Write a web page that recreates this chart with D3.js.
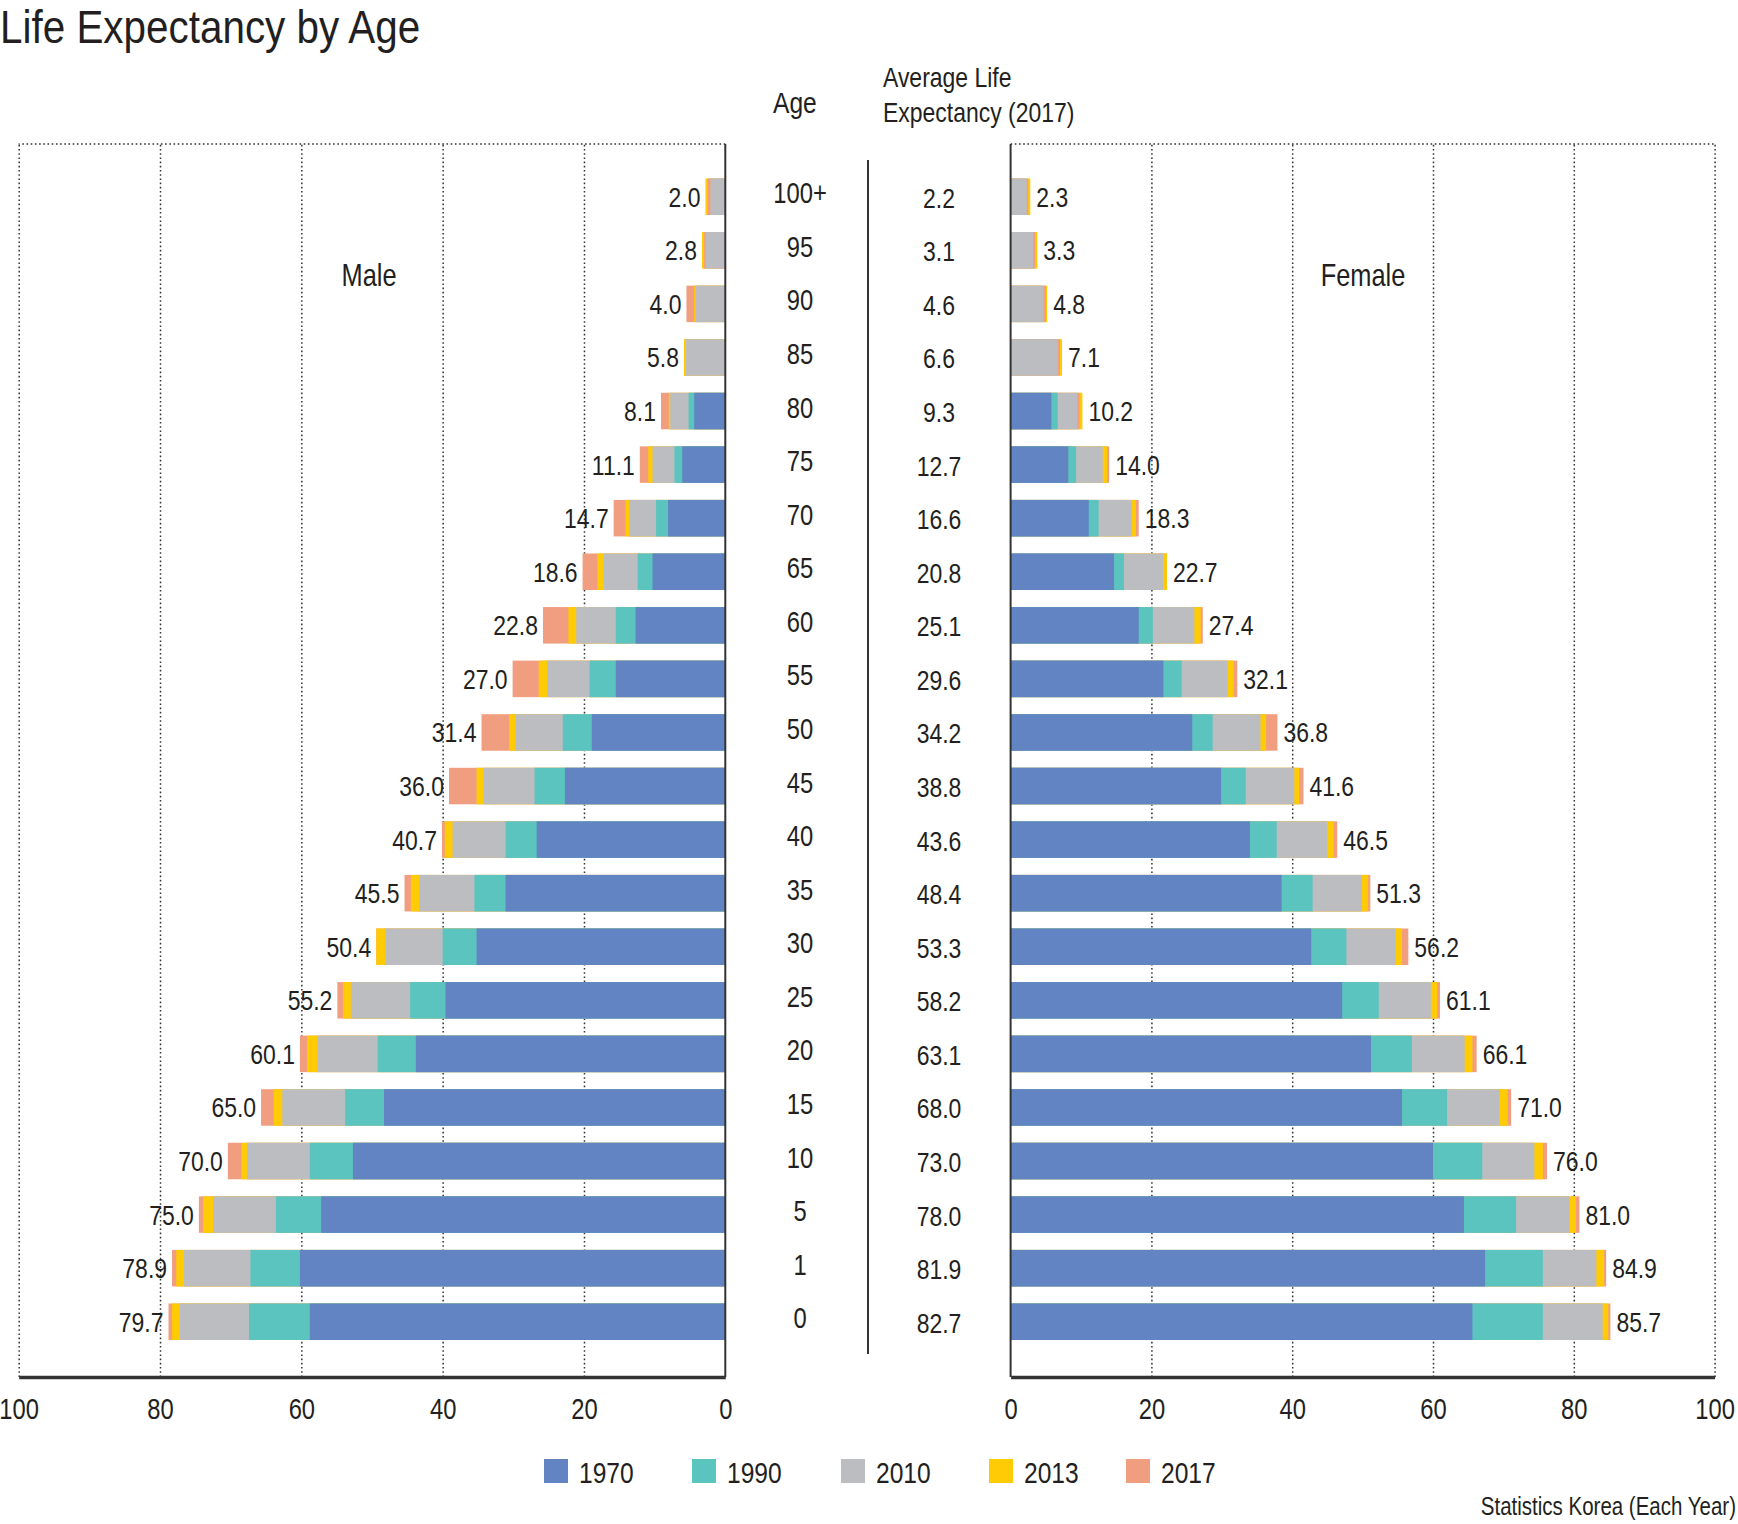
<!DOCTYPE html>
<html>
<head>
<meta charset="utf-8">
<script src="https://cdn.jsdelivr.net/npm/d3@7"></script>
<style>
  body { margin: 0; background: #fff; }
  svg text { font-family: "Liberation Sans", Arial, sans-serif; fill: #231f20; }
</style>
</head>
<body>
<div id="chart"></div>
<script>
const WIDTH = 1738;
const HEIGHT = 1524;
const SX = 0.82; // squeeze text to a condensed look

// data, top row first
const ages = ["100+", "95", "90", "85", "80", "75", "70", "65", "60", "55", "50",
              "45", "40", "35", "30", "25", "20", "15", "10", "5", "1", "0"];
const years = ["1970", "1990", "2010", "2013", "2017"];
const colors = ["#6384c2", "#5cc4be", "#bcbdc0", "#ffcb05", "#f19e80"];

const male1970 = [null, null, null, null, 4.4, 6.1, 8.1, 10.3, 12.7, 15.5, 18.9, 22.7, 26.7, 31.1, 35.2, 39.6, 43.8, 48.3, 52.7, 57.2, 60.2, 58.8];
const male1990 = [null, null, null, null, 5.2, 7.2, 9.8, 12.4, 15.5, 19.2, 23.0, 27.0, 31.1, 35.5, 40.0, 44.6, 49.2, 53.8, 58.8, 63.6, 67.2, 67.4];
const male2010 = [2.1, 2.8, 4.2, 5.6, 7.8, 10.3, 13.6, 17.2, 21.1, 25.2, 29.7, 34.2, 38.6, 43.3, 48.1, 53.0, 57.7, 62.7, 67.7, 72.5, 76.6, 77.2];
const male2013 = [2.8, 3.3, 4.4, 5.85, 8.0, 10.9, 14.1, 18.1, 22.2, 26.4, 30.6, 35.2, 39.7, 44.5, 49.4, 54.1, 59.2, 63.9, 68.5, 73.9, 77.7, 78.3];
const male2017 = [2.5, 3.0, 5.5, 5.85, 9.1, 12.1, 15.8, 20.2, 25.8, 30.1, 34.5, 39.1, 40.1, 45.4, 49.4, 54.9, 60.2, 65.7, 70.4, 74.5, 78.3, 78.8];

const female1970 = [null, null, null, null, 5.8, 8.2, 11.1, 14.7, 18.2, 21.7, 25.8, 29.9, 34.0, 38.5, 42.7, 47.1, 51.2, 55.6, 60.0, 64.4, 67.4, 65.6];
const female1990 = [null, null, null, null, 6.7, 9.3, 12.5, 16.1, 20.2, 24.3, 28.7, 33.4, 37.8, 42.9, 47.7, 52.3, 57.0, 62.0, 67.0, 71.8, 75.6, 75.6];
const female2010 = [2.3, 3.2, 4.7, 6.7, 9.5, 13.1, 17.2, 21.7, 26.1, 30.8, 35.5, 40.3, 45.0, 49.9, 54.7, 59.7, 64.5, 69.4, 74.4, 79.4, 83.2, 84.1];
const female2013 = [2.8, 3.8, 5.2, 7.3, 10.2, 13.7, 17.8, 22.2, 27.0, 31.7, 36.3, 41.0, 45.9, 50.8, 55.6, 60.6, 65.6, 70.6, 75.6, 80.3, 84.3, 84.9];
const female2017 = [2.5, 3.5, 5.0, 7.0, 9.8, 14.0, 18.2, 22.2, 27.3, 32.2, 37.9, 41.6, 46.4, 51.1, 56.5, 61.0, 66.2, 71.1, 76.2, 80.8, 84.6, 85.2];

// printed 2017 figures
const maleLabel = [2.0, 2.8, 4.0, 5.8, 8.1, 11.1, 14.7, 18.6, 22.8, 27.0, 31.4, 36.0, 40.7, 45.5, 50.4, 55.2, 60.1, 65.0, 70.0, 75.0, 78.9, 79.7];
const femaleLabel = [2.3, 3.3, 4.8, 7.1, 10.2, 14.0, 18.3, 22.7, 27.4, 32.1, 36.8, 41.6, 46.5, 51.3, 56.2, 61.1, 66.1, 71.0, 76.0, 81.0, 84.9, 85.7];
const averageLabel = [2.2, 3.1, 4.6, 6.6, 9.3, 12.7, 16.6, 20.8, 25.1, 29.6, 34.2, 38.8, 43.6, 48.4, 53.3, 58.2, 63.1, 68.0, 73.0, 78.0, 81.9, 82.7];

const ticks = [0, 20, 40, 60, 80, 100];

const male = [male1970, male1990, male2010, male2013, male2017];
const female = [female1970, female1990, female2010, female2013, female2017];

const TOP = 144;
const BOTTOM = 1377;

let svg = d3.select("#chart")
            .append("svg")
            .attr("width", WIDTH)
            .attr("height", HEIGHT);

let xLeft = d3.scaleLinear().domain([0, 100]).range([725.3, 18.7]);
let xRight = d3.scaleLinear().domain([0, 100]).range([1010.6, 1714.6]);
let y = d3.scaleBand().domain(ages).range([178.5, 1340]).paddingInner(0.3186).paddingOuter(0);
let color = d3.scaleOrdinal().domain(years).range(colors);

function place(x, y, sx) {
    return `translate(${x},${y}) scale(${sx || SX},1)`;
}

function addText(x, y, size, str, anchor) {
    return svg.append("text")
        .attr("transform", place(x, y))
        .attr("font-size", size)
        .attr("text-anchor", anchor || "start")
        .text(str);
}

function drawPanel(x, series, labels, side) {
    let g = svg.append("g");

    // dotted grid
    g.append("g")
        .attr("transform", `translate(0,${BOTTOM})`)
        .call(d3.axisBottom(x).tickValues([20, 40, 60, 80, 100]).tickSize(-(BOTTOM - TOP)).tickFormat(""))
        .call(a => a.select(".domain").remove())
        .selectAll("line")
        .attr("stroke", "#333")
        .attr("stroke-width", 1.5)
        .attr("stroke-dasharray", "1.6,2.6");

    g.append("line")
        .attr("x1", x(0)).attr("x2", x(100))
        .attr("y1", TOP).attr("y2", TOP)
        .attr("stroke", "#333")
        .attr("stroke-width", 1.5)
        .attr("stroke-dasharray", "1.6,2.6");

    // bars: every year drawn from 0, longest first
    ages.forEach((age, i) => {
        let items = years.map((yr, k) => ({ yr: yr, k: k, v: series[k][i] }))
                         .filter(d => d.v != null)
                         .sort((a, b) => (b.v - a.v) || (b.k - a.k));
        g.selectAll(null)
            .data(items)
            .enter()
            .append("rect")
            .attr("x", d => Math.min(x(0), x(d.v)))
            .attr("y", y(age))
            .attr("width", d => Math.abs(x(d.v) - x(0)))
            .attr("height", y.bandwidth())
            .attr("fill", d => color(d.yr));
    });

    // value labels
    g.selectAll(null)
        .data(ages)
        .enter()
        .append("text")
        .attr("transform", (age, i) => {
            let m = d3.max(series, s => s[i]);
            let tx = side == "left" ? x(m) - 5 : x(m) + 6;
            return place(tx, y(age) + y.bandwidth() / 2 + 10);
        })
        .attr("text-anchor", side == "left" ? "end" : "start")
        .attr("font-size", 28)
        .text((age, i) => labels[i].toFixed(1));

    // solid zero line
    g.append("line")
        .attr("x1", x(0)).attr("x2", x(0))
        .attr("y1", TOP).attr("y2", BOTTOM)
        .attr("stroke", "#333")
        .attr("stroke-width", 2);

    // bottom axis
    let axis = g.append("g")
        .attr("transform", `translate(0,${BOTTOM})`)
        .call(d3.axisBottom(x).tickValues(ticks).tickSize(0).tickPadding(21));
    axis.select(".domain")
        .attr("stroke", "#333")
        .attr("stroke-width", 3.5);
    axis.selectAll("text")
        .attr("font-size", 29)
        .attr("font-family", null)
        .attr("transform", `scale(${SX},1)`);
}

drawPanel(xLeft, male, maleLabel, "left");
drawPanel(xRight, female, femaleLabel, "right");

// centre column
svg.append("line")
    .attr("x1", 868).attr("x2", 868)
    .attr("y1", 160).attr("y2", 1354)
    .attr("stroke", "#333")
    .attr("stroke-width", 2);

svg.selectAll(".age")
    .data(ages)
    .enter()
    .append("text")
    .attr("transform", age => place(800, y(age) + y.bandwidth() / 2 + 6.5))
    .attr("text-anchor", "middle")
    .attr("font-size", 29)
    .text(age => age);

svg.selectAll(".avg")
    .data(ages)
    .enter()
    .append("text")
    .attr("transform", age => place(939, y(age) + y.bandwidth() / 2 + 11))
    .attr("text-anchor", "middle")
    .attr("font-size", 28)
    .text((age, i) => averageLabel[i].toFixed(1));

// titles and headers
svg.append("text")
    .attr("transform", place(0, 43, 0.86))
    .attr("font-size", 47)
    .text("Life Expectancy by Age");
addText(773, 113, 30, "Age");
addText(883, 87, 28, "Average Life");
addText(883, 122, 28, "Expectancy (2017)");
addText(369, 286, 31, "Male", "middle");
addText(1363, 286, 31, "Female", "middle");

// legend
const legendX = [544, 692, 841, 989, 1126];
let legend = svg.selectAll(".legend")
    .data(years)
    .enter()
    .append("g")
    .attr("transform", (yr, k) => `translate(${legendX[k]},1459)`);
legend.append("rect")
    .attr("width", 24)
    .attr("height", 24)
    .attr("fill", yr => color(yr));
legend.append("text")
    .attr("transform", place(35, 24))
    .attr("font-size", 30)
    .text(yr => yr);

addText(1736, 1515, 25, "Statistics Korea (Each Year)", "end");
</script>
</body>
</html>
